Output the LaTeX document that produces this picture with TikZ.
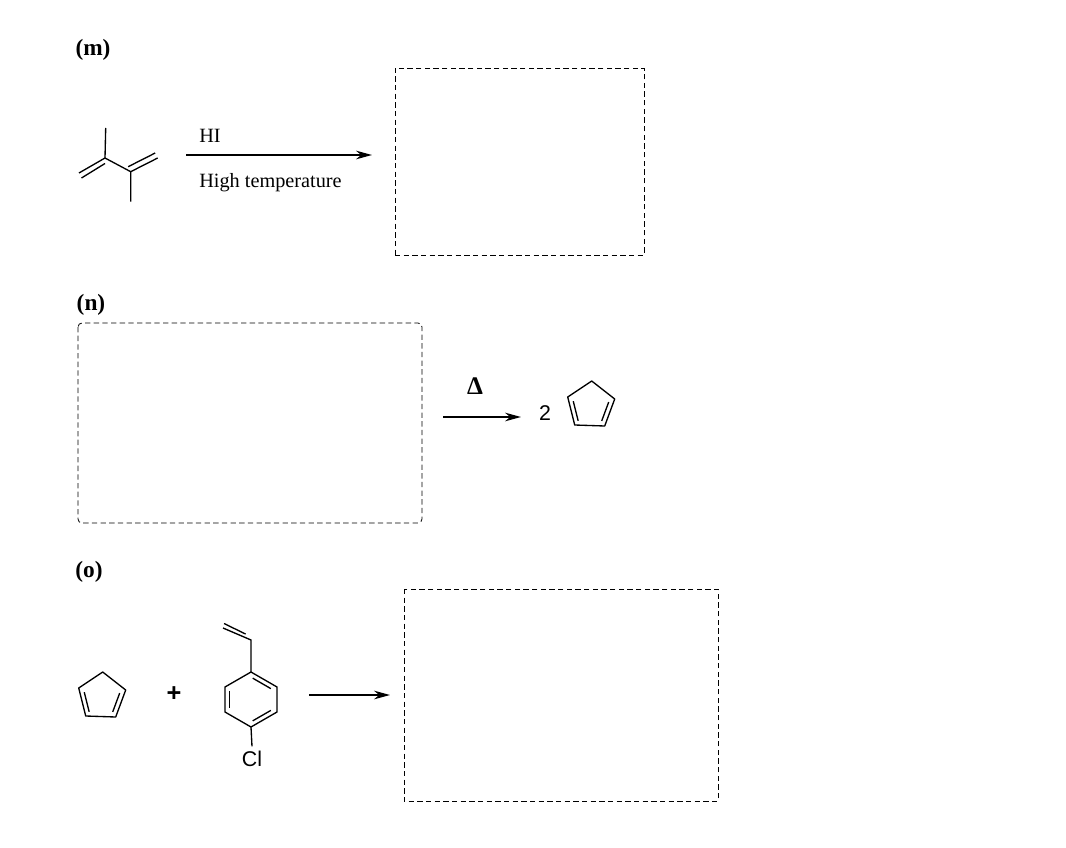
\documentclass[tikz,border=0pt]{standalone}
\usepackage{fontspec}
\setmainfont{Liberation Serif}
\newfontfamily\sansf{Liberation Sans}
\usetikzlibrary{arrows.meta,calc}
\begin{document}
\begin{tikzpicture}[x=0.75pt,y=-0.75pt,
  bond/.style={line width=1pt},
  box/.style={line width=0.6pt,dash pattern=on 4pt off 2.5pt},
  rxn/.style={-{Stealth[length=12pt,width=6.5pt]},line width=1.2pt},
  lab/.style={font=\bfseries\fontsize{17.5}{17.5}\selectfont},
  txt/.style={font=\fontsize{15.2}{15.2}\selectfont},
  stxt/.style={font=\sansf\fontsize{16}{16}\selectfont},
  cp/.pic={
    \coordinate (t) at (0,-16); \coordinate (r) at (23,2); \coordinate (br) at (13,29);
    \coordinate (bl) at (-17,28); \coordinate (l) at (-24,0);
    \draw[bond,line join=round] (t)--(r)--(br)--(bl)--(l)--cycle;
    \draw[bond] ($(l)!0.15!(bl)+(4.5,0)$)--($(bl)!0.15!(l)+(4.5,0)$);
    \draw[bond] ($(r)!0.15!(br)+(-4.5,-1)$)--($(br)!0.15!(r)+(-4.5,-1)$);
  }]
\useasboundingbox (0,0) rectangle (1066,848);
% (m)
\node[lab] (m) at (93,50) {(m)};
\coordinate (a1) at (105.7,128); \coordinate (a2) at (105,158); \coordinate (a3) at (79,173);
\coordinate (a4) at (130.7,171.7); \coordinate (a5) at (157.7,158); \coordinate (a6) at (130.7,201.7);
\draw[bond] (a1)--(a2)--(a3) (a2)--(a4)--(a5) (a4)--(a6);
\draw[bond] ($(a2)+(0,5.5)$)--($(a3)+(2.5,5)$);
\draw[bond] ($(a4)+(-2.5,-5)$)--($(a5)+(-2.5,-5)$);
\coordinate (ma) at (186,155); \coordinate (mb) at (372,155);
\draw[rxn] (ma)--(mb);
\node[txt] (hi) at (210,136) {HI};
\node[txt] (ht) at (270.5,183) {High temperature};
\node[box,draw,minimum width=249*0.75pt,minimum height=187*0.75pt,inner sep=0] (bm) at (519.5,161.5) {};
% (n)
\node[lab] (n) at (91,305) {(n)};
\draw[box,rounded corners=3pt] (78,323) rectangle (422,523);
\coordinate (na) at (443,417); \coordinate (nb) at (521,417);
\draw[rxn] (na)--(nb);
\node[font=\bfseries\fontsize{19}{19}\selectfont] (d) at (475,386) {Δ};
\node[stxt] (two) at (545,413) {2};
\pic at (591.7,397) {cp};
% (o)
\node[lab] (o) at (89,572) {(o)};
\pic at (102.7,688) {cp};
\node[font=\sansf\bfseries\fontsize{19}{19}\selectfont] (plus) at (174,694) {+};
\coordinate (b1) at (251,672); \coordinate (b2) at (277,687); \coordinate (b3) at (277,712);
\coordinate (b4) at (251,727); \coordinate (b5) at (225,712); \coordinate (b6) at (225,687);
\draw[bond,line join=round] (b1)--(b2)--(b3)--(b4)--(b5)--(b6)--cycle;
\draw[bond] ($(b6)!0.15!(b5)+(4.5,0)$)--($(b5)!0.15!(b6)+(4.5,0)$);
\draw[bond] ($(b1)!0.15!(b2)+(-2.2,3.9)$)--($(b2)!0.15!(b1)+(-2.2,3.9)$);
\draw[bond] ($(b3)!0.15!(b4)+(-2.2,-3.9)$)--($(b4)!0.15!(b3)+(-2.2,-3.9)$);
\coordinate (v1) at (251,640); \coordinate (v2) at (223,628);
\draw[bond] (b1)--(v1)--(v2);
\draw[bond] ($(v1)!0.12!(v2)+(-2,-4.5)$)--($(v2)+(1,-4.5)$);
\node[stxt] (cl) at (252,759) {Cl};
\draw[bond] (b4)--(cl.north);
\coordinate (oa) at (309,695); \coordinate (ob) at (390,695);
\draw[rxn] (oa)--(ob);
\draw[box] (404,589) rectangle (718,801);
\end{tikzpicture}
\end{document}
